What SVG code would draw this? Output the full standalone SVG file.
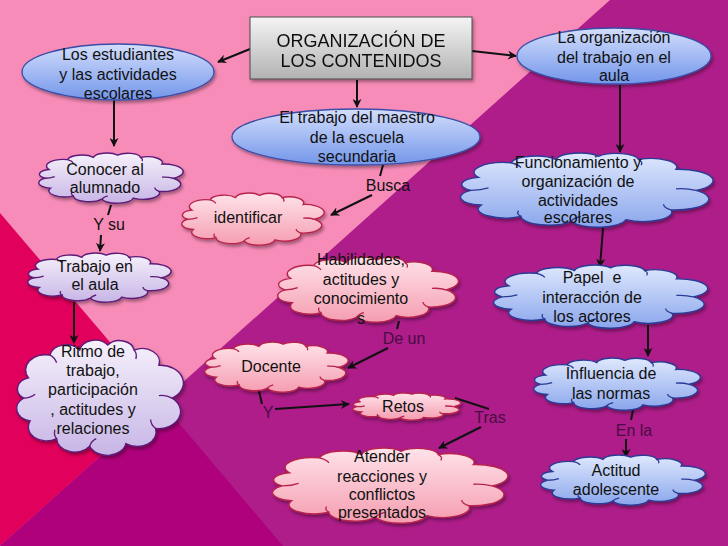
<svg xmlns="http://www.w3.org/2000/svg" xmlns:xlink="http://www.w3.org/1999/xlink" width="728" height="546" viewBox="0 0 728 546">
<defs>
  <style>
    text { font-family: "Liberation Sans", Arial, sans-serif; font-size: 16px; fill: #111; text-anchor: middle; }
    .title { font-size: 18px; }
    .lbl { fill: #111; }
    .lblp { fill: #4a0c44; }
    .conn { stroke: #111; stroke-width: 2; fill: none; }
    .arr { marker-end: url(#arrow); }
    .crease { fill: none; vector-effect: non-scaling-stroke; stroke-width: 1.3; }
    .lav { fill: url(#gLav); stroke: #5c1a78; }
    .pink { fill: url(#gPink); stroke: #b8234d; }
    .blue { fill: url(#gBlue); stroke: #2c3a96; }
    .ell { fill: url(#gEll); stroke: #3a4ea6; stroke-width: 1.3; }
  </style>
  <linearGradient id="gLav" x1="0" y1="0" x2="0" y2="1">
    <stop offset="0" stop-color="#f6f1fb"/>
    <stop offset="1" stop-color="#c7b5e6"/>
  </linearGradient>
  <linearGradient id="gPink" x1="0" y1="0" x2="0" y2="1">
    <stop offset="0" stop-color="#ffe3ea"/>
    <stop offset="1" stop-color="#f59db0"/>
  </linearGradient>
  <linearGradient id="gBlue" x1="0" y1="0" x2="0" y2="1">
    <stop offset="0" stop-color="#dfe8fd"/>
    <stop offset="1" stop-color="#8aa6ec"/>
  </linearGradient>
  <linearGradient id="gEll" x1="0" y1="0" x2="0" y2="1">
    <stop offset="0" stop-color="#d3defc"/>
    <stop offset="1" stop-color="#7396ea"/>
  </linearGradient>
  <linearGradient id="gTitle" x1="0" y1="0" x2="0" y2="1">
    <stop offset="0" stop-color="#f4f4f4"/>
    <stop offset="1" stop-color="#b2b2b2"/>
  </linearGradient>
  <filter id="sh" x="-10%" y="-10%" width="125%" height="135%">
    <feDropShadow dx="1.5" dy="2.5" stdDeviation="1.8" flood-color="#000" flood-opacity="0.35"/>
  </filter>
  <marker id="arrow" viewBox="0 0 10 10" refX="9" refY="5" markerWidth="9" markerHeight="9" markerUnits="userSpaceOnUse" orient="auto">
    <path d="M0,0 L10,5 L0,10 L3,5 z" fill="#111"/>
  </marker>
  <symbol id="cloud" viewBox="2 6 100 91" preserveAspectRatio="none" overflow="visible">
    <path vector-effect="non-scaling-stroke" stroke-width="1.4" d="M9,36 A12,12 0 0 1 22,18 A10,10 0 0 1 40,14 A9.5,9.5 0 0 1 57,10 A9,9 0 0 1 73,14 A10.5,10.5 0 0 1 88,26 A14,14 0 0 1 96,52 A13.5,13.5 0 0 1 86,76 A11.5,11.5 0 0 1 68,88 A11.5,11.5 0 0 1 46,90 A11,11 0 0 1 26,84 A11,11 0 0 1 10,70 A10,10 0 0 1 6,52 A9,9 0 0 1 9,36 Z"/>
    <path class="crease" fill="none" d="M6,52 Q10,52 13,49 M26,84 Q24,81 25,77 M46,90 Q47,86 50,84 M96,52 Q92,49 88,50 M73,14 Q75,17 74,21 M22,18 Q25,20 26,24 M86,76 Q83,73 83,69"/>
  </symbol>
</defs>

<g id="background">
  <rect x="0" y="0" width="728" height="546" fill="#f78cb8"/>
  <polygon points="610,0 728,0 728,546 0,546" fill="#ae1d89"/>
  <polygon points="0,213 161,402 0,546" fill="#e1005b"/>
  <polygon points="0,546 161,402 283,546" fill="#af017c"/>
</g>

<g id="connectors">
  <path class="conn arr" d="M250,49 L218,62"/>
  <path class="conn arr" d="M357,80 L357,107"/>
  <path class="conn arr" d="M472,51 L516,56"/>
  <path class="conn arr" d="M114,100 L114,146"/>
  <path class="conn" d="M111,205 L108,215"/>
  <path class="conn arr" d="M101,235 L100,251"/>
  <path class="conn arr" d="M74,302 L74,343"/>
  <path class="conn" d="M383,165 L380,176"/>
  <path class="conn arr" d="M372,195 L331,215"/>
  <path class="conn" d="M399,321 L397,329"/>
  <path class="conn arr" d="M388,348 L348,368"/>
  <path class="conn" d="M258,387 L262,404"/>
  <path class="conn arr" d="M275,409 L349,404"/>
  <path class="conn" d="M455,398 L489,409"/>
  <path class="conn arr" d="M481,427 L439,448"/>
  <path class="conn arr" d="M620,85 L620,152"/>
  <path class="conn arr" d="M603,228 L600,267"/>
  <path class="conn arr" d="M648,325 L648,356"/>
  <path class="conn" d="M633,410 L631,420"/>
  <path class="conn arr" d="M626,439 L626,457"/>
  <text class="lbl" x="109" y="230">Y su</text>
  <text class="lbl" x="388" y="191">Busca</text>
  <text class="lblp" x="404" y="344">De un</text>
  <text class="lblp" x="268" y="418">Y</text>
  <text class="lblp" x="490" y="423">Tras</text>
  <text class="lblp" x="634" y="436">En la</text>
</g>

<g id="n-titulo" filter="url(#sh)">
  <rect x="250" y="17" width="222" height="62" fill="url(#gTitle)" stroke="#4a4a4a" stroke-width="1"/>
  <text class="title" x="361" y="47">ORGANIZACIÓN DE</text>
  <text class="title" x="361" y="67">LOS CONTENIDOS</text>
</g>

<g id="n-estudiantes">
  <ellipse class="ell" cx="118" cy="72" rx="96" ry="28" filter="url(#sh)"/>
  <text x="118" y="60">Los estudiantes</text>
  <text x="118" y="80">y las actividades</text>
  <text x="118" y="99">escolares</text>
</g>

<g id="n-maestro">
  <ellipse class="ell" cx="356" cy="137" rx="124" ry="28" filter="url(#sh)"/>
  <text x="357" y="123">El trabajo del maestro</text>
  <text x="357" y="143">de la escuela</text>
  <text x="357" y="162">secundaria</text>
</g>

<g id="n-organizacion">
  <ellipse class="ell" cx="614" cy="56" rx="97" ry="28" filter="url(#sh)"/>
  <text x="614" y="43">La organización</text>
  <text x="614" y="63">del trabajo en el</text>
  <text x="614" y="81">aula</text>
</g>

<g id="n-conocer">
  <use href="#cloud" xlink:href="#cloud" class="lav" x="39" y="153" width="143" height="50" filter="url(#sh)"/>
  <text x="105" y="175">Conocer al</text>
  <text x="105" y="193">alumnado</text>
</g>

<g id="n-trabajo-aula">
  <use href="#cloud" xlink:href="#cloud" class="lav" x="28" y="253" width="142" height="49" filter="url(#sh)"/>
  <text x="95" y="272">Trabajo en</text>
  <text x="95" y="290">el aula</text>
</g>

<g id="n-ritmo">
  <use href="#cloud" xlink:href="#cloud" class="lav" x="17" y="340" width="165" height="115" filter="url(#sh)"/>
  <text x="93" y="357">Ritmo de</text>
  <text x="93" y="376">trabajo,</text>
  <text x="93" y="395">participación</text>
  <text x="93" y="415">, actitudes y</text>
  <text x="93" y="434">relaciones</text>
</g>

<g id="n-identificar">
  <use href="#cloud" xlink:href="#cloud" class="pink" x="182" y="193" width="141" height="52" filter="url(#sh)"/>
  <text x="248" y="223">identificar</text>
</g>

<g id="n-habilidades">
  <use href="#cloud" xlink:href="#cloud" class="pink" x="278" y="257" width="179" height="65" filter="url(#sh)"/>
  <text x="361" y="265">Habilidades,</text>
  <text x="361" y="285">actitudes y</text>
  <text x="361" y="304">conocimiento</text>
  <text x="361" y="324">s</text>
</g>

<g id="n-docente">
  <use href="#cloud" xlink:href="#cloud" class="pink" x="205" y="342" width="142" height="50" filter="url(#sh)"/>
  <text x="271" y="372">Docente</text>
</g>

<g id="n-retos">
  <use href="#cloud" xlink:href="#cloud" class="pink" x="353" y="393" width="107" height="27" filter="url(#sh)"/>
  <text x="403" y="412">Retos</text>
</g>

<g id="n-atender">
  <use href="#cloud" xlink:href="#cloud" class="pink" x="273" y="448" width="233" height="75" filter="url(#sh)"/>
  <text x="382" y="462">Atender</text>
  <text x="382" y="482">reacciones y</text>
  <text x="382" y="500">conflictos</text>
  <text x="382" y="518">presentados</text>
</g>

<g id="n-funcionamiento">
  <use href="#cloud" xlink:href="#cloud" class="blue" x="461" y="153" width="250" height="74" filter="url(#sh)"/>
  <text x="578" y="168">Funcionamiento y</text>
  <text x="578" y="187">organización de</text>
  <text x="578" y="206">actividades</text>
  <text x="578" y="223">escolares</text>
</g>

<g id="n-papel">
  <use href="#cloud" xlink:href="#cloud" class="blue" x="494" y="265" width="212" height="63" filter="url(#sh)"/>
  <text x="592" y="283" xml:space="preserve">Papel  e</text>
  <text x="592" y="303">interacción de</text>
  <text x="592" y="322">los actores</text>
</g>

<g id="n-influencia">
  <use href="#cloud" xlink:href="#cloud" class="blue" x="534" y="358" width="165" height="52" filter="url(#sh)"/>
  <text x="611" y="379">Influencia de</text>
  <text x="611" y="399">las normas</text>
</g>

<g id="n-actitud">
  <use href="#cloud" xlink:href="#cloud" class="blue" x="541" y="455" width="163" height="50" filter="url(#sh)"/>
  <text x="616" y="476">Actitud</text>
  <text x="616" y="495">adolescente</text>
</g>
</svg>
